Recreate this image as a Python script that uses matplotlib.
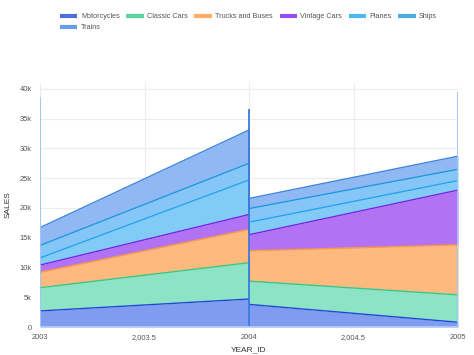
import matplotlib
matplotlib.use("Agg")
import matplotlib.pyplot as plt
import numpy as np
from matplotlib.lines import Line2D

plt.rcParams["font.family"] = ["Liberation Sans", "DejaVu Sans"]

# ---- data (sales, thousands) ----
years = [2003, 2004, 2004, 2005]
series_names = ["Motorcycles", "Classic Cars", "Trucks and Buses", "Vintage Cars",
                "Planes", "Ships", "Trains"]
motorcycles = [2.7, 4.7, 3.8, 0.8]
classic_cars = [3.9, 6.1, 3.9, 4.6]
trucks_buses = [2.6, 5.6, 5.1, 8.4]
vintage_cars = [1.2, 2.5, 2.7, 9.2]
planes = [1.2, 5.8, 2.1, 1.6]
ships = [2.1, 2.8, 2.3, 1.9]
trains = [3.0, 5.6, 1.7, 2.2]
record_years = [2003, 2004, 2005]
record_peaks = [38.7, 36.6, 39.5]

yticks = [0, 5, 10, 15, 20, 25, 30, 35, 40]
ytick_labels = ["0", "5k", "10k", "15k", "20k", "25k", "30k", "35k", "40k"]
xticks = [2003, 2003.5, 2004, 2004.5, 2005]
xtick_labels = ["2003", "2,003.5", "2004", "2,004.5", "2005"]

fill_colors = ["#7f9cf0", "#8de3c6", "#feb97f", "#b173f4", "#82cbf7", "#86c6f6", "#90b8f2"]
line_colors = ["#2348d8", "#33c98c", "#ff9a3c", "#7a22e8", "#22a4ee", "#1e98e0", "#3f85e0"]

values = [motorcycles, classic_cars, trucks_buses, vintage_cars, planes, ships, trains]

fig = plt.figure(figsize=(4.74, 3.55), dpi=100)
ax = fig.add_axes([40 / 474, 28 / 355, 418 / 474, 244 / 355])

x = np.array(years, dtype=float)
base = np.zeros(len(x))
handles = []
for name, vals, fc, lc in zip(series_names, values, fill_colors, line_colors):
    top = base + np.array(vals)
    ax.fill_between(x, base, top, color=fc, lw=0, zorder=2)
    ax.plot(x, top, color=lc, lw=1.0, zorder=3)
    base = top
    handles.append(Line2D([], [], color=lc, lw=3, alpha=0.8, label=name,
                          solid_capstyle="butt"))

ax.vlines(record_years, 0, record_peaks,
          colors=["#9cc3f5", "#3a7be0", "#9cc8f5"], lw=1.3, zorder=4)
ax.axhline(0, color="#a8c8f0", lw=1.5, zorder=4)

ax.set_xlim(2003, 2005)
ax.set_ylim(0, 41)
ax.set_yticks(yticks)
ax.set_yticklabels(ytick_labels)
ax.set_xticks(xticks)
ax.set_xticklabels(xtick_labels)
ax.tick_params(axis="both", length=0, labelsize=5.4, colors="#555555")
ax.tick_params(axis="y", pad=6)
ax.tick_params(axis="x", pad=5)
ax.grid(True, color="#ececec", lw=0.8, zorder=0)
ax.set_axisbelow(True)
for s in ax.spines.values():
    s.set_visible(False)

ax.set_ylabel("SALES", fontsize=6, color="#333333", labelpad=6)
ax.set_xlabel("YEAR_ID", fontsize=6, color="#333333", labelpad=4)

order = [0, 6, 1, 2, 3, 4, 5]
leg = fig.legend([handles[i] for i in order], [series_names[i] for i in order],
                 ncol=6, loc="upper left", bbox_to_anchor=(55 / 474, 1 - 8 / 355),
                 frameon=False, fontsize=5.2, handlelength=2.4, handletextpad=0.5,
                 columnspacing=0.9, labelspacing=0.55, borderpad=0.2)
for t in leg.get_texts():
    t.set_color("#555555")

fig.savefig("out.png", dpi=100)
